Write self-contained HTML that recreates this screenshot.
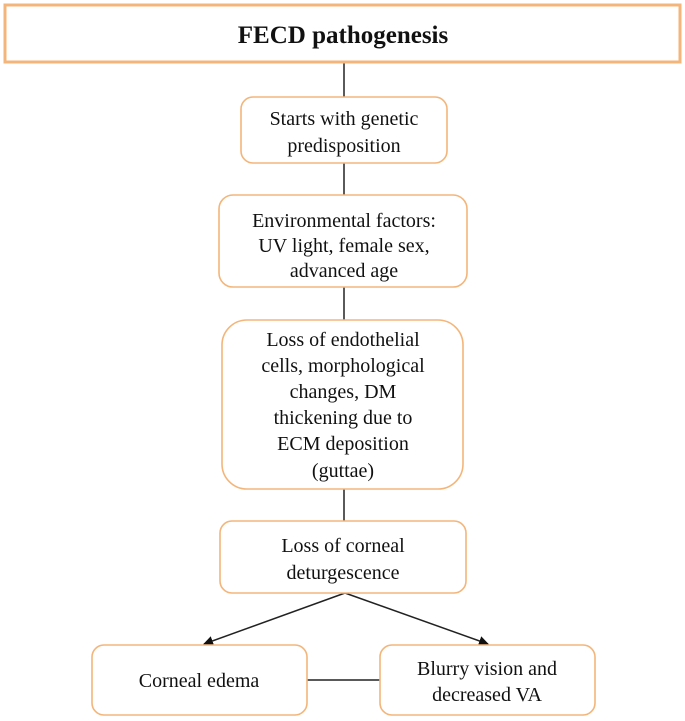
<!DOCTYPE html>
<html><head><meta charset="utf-8"><style>
html,body{margin:0;padding:0;background:#fff;}
svg{display:block;}
text{font-family:"Liberation Serif",serif;font-size:20px;fill:#111;text-anchor:middle;}
</style></head><body>
<svg width="685" height="721" viewBox="0 0 685 721" xmlns="http://www.w3.org/2000/svg">
<defs><marker id="ah" markerWidth="10" markerHeight="10" refX="9" refY="5" orient="auto" markerUnits="userSpaceOnUse"><path d="M0,0 L10,5 L0,10 z" fill="#111"/></marker></defs>
<g stroke="#222" stroke-width="1.5" fill="none">
<line x1="344" y1="62" x2="344" y2="97"/>
<line x1="344" y1="163" x2="344" y2="195"/>
<line x1="344" y1="287" x2="344" y2="320"/>
<line x1="344" y1="489" x2="344" y2="521"/>
<line x1="307" y1="680" x2="380" y2="680"/>
<line x1="345" y1="593" x2="204" y2="644" marker-end="url(#ah)"/>
<line x1="345" y1="593" x2="488" y2="644" marker-end="url(#ah)"/>
</g>
<g fill="#fff" stroke="#f3b57a">
<rect x="5" y="5" width="675" height="57" stroke-width="3"/>
<rect x="241" y="97" width="206" height="66" rx="12" stroke-width="1.6"/>
<rect x="219" y="195" width="248" height="92" rx="14" stroke-width="1.6"/>
<rect x="222" y="320" width="241" height="169" rx="25" stroke-width="1.6"/>
<rect x="220" y="521" width="246" height="72" rx="12" stroke-width="1.6"/>
<rect x="92" y="645" width="215" height="70" rx="12" stroke-width="1.6"/>
<rect x="380" y="645" width="215" height="70" rx="12" stroke-width="1.6"/>
</g>
<text x="343" y="43" style="font-size:25px;font-weight:bold">FECD pathogenesis</text>
<text x="344" y="125">Starts with genetic</text>
<text x="344" y="152">predisposition</text>
<text x="344" y="227">Environmental factors:</text>
<text x="344" y="252">UV light, female sex,</text>
<text x="344" y="277">advanced age</text>
<text x="343" y="346">Loss of endothelial</text>
<text x="343" y="372">cells, morphological</text>
<text x="343" y="398">changes, DM</text>
<text x="343" y="424">thickening due to</text>
<text x="343" y="450">ECM deposition</text>
<text x="343" y="477">(guttae)</text>
<text x="343" y="552">Loss of corneal</text>
<text x="343" y="579">deturgescence</text>
<text x="199" y="687">Corneal edema</text>
<text x="487" y="675">Blurry vision and</text>
<text x="487" y="701">decreased VA</text>
</svg>
</body></html>
